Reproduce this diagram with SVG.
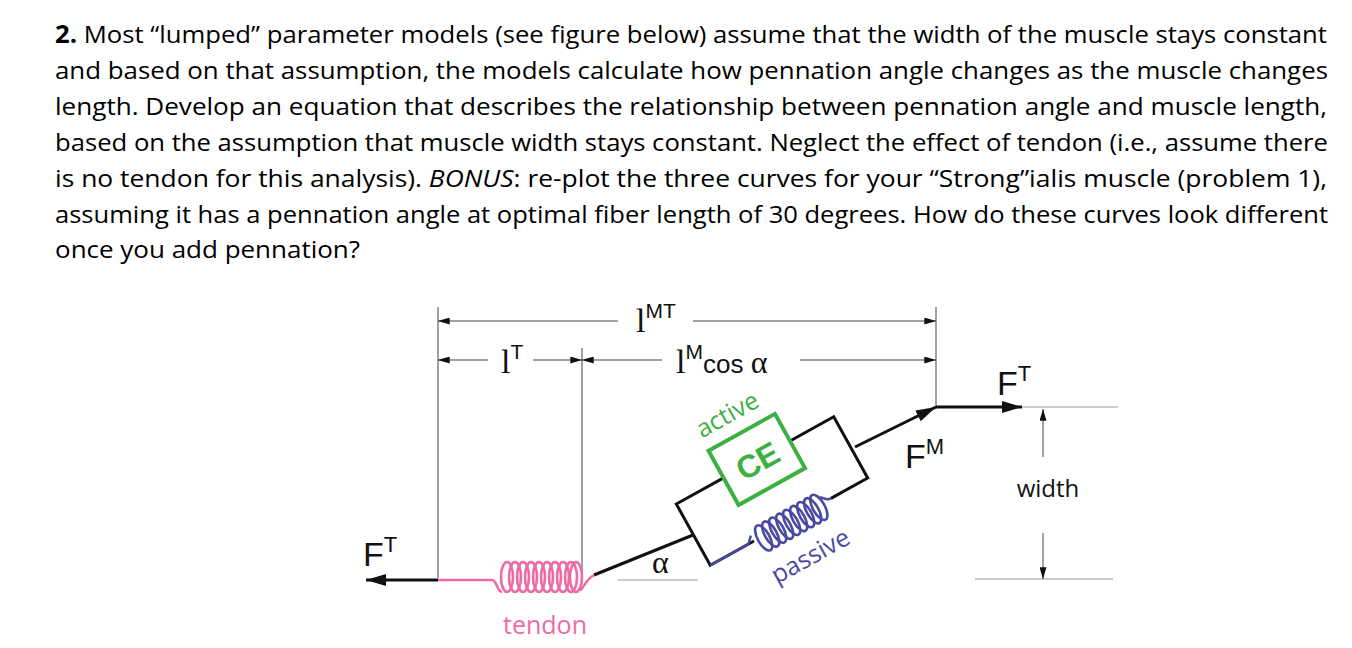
<svg xmlns="http://www.w3.org/2000/svg" width="1352" height="648" viewBox="0 0 1352 648">
<style>
.p{font-family:"Open Sans","Noto Sans",sans-serif;font-size:24.5px;fill:#000}
.l{font-family:"Liberation Sans",Arial,sans-serif;fill:#111}
.s{font-family:"Liberation Serif",serif;fill:#111}
.g{stroke:#999;stroke-width:1.2;fill:none}
.d{stroke:#444;stroke-width:1;fill:none}
</style>
<defs>
<marker id="a" viewBox="0 0 10 6" refX="10" refY="3" markerWidth="15" markerHeight="7" markerUnits="userSpaceOnUse" orient="auto-start-reverse"><path d="M0,0L10,3L0,6z" fill="#111"/></marker>
<marker id="b" viewBox="0 0 10 6" refX="10" refY="3" markerWidth="22" markerHeight="12" markerUnits="userSpaceOnUse" orient="auto-start-reverse"><path d="M0,0L10,3L0,6z" fill="#111"/></marker>
</defs>
<rect width="1352" height="648" fill="#fff"/>
<g id="question">
<text class="p" x="55" y="43" textLength="1272" lengthAdjust="spacingAndGlyphs"><tspan font-weight="bold">2.</tspan> Most “lumped” parameter models (see figure below) assume that the width of the muscle stays constant</text>
<text class="p" x="55" y="79" textLength="1273" lengthAdjust="spacingAndGlyphs">and based on that assumption, the models calculate how pennation angle changes as the muscle changes</text>
<text class="p" x="55" y="115" textLength="1272" lengthAdjust="spacingAndGlyphs">length.  Develop an equation that describes the relationship between pennation angle and muscle length,</text>
<text class="p" x="55" y="151" textLength="1273" lengthAdjust="spacingAndGlyphs">based on the assumption that muscle width stays constant.   Neglect the effect of tendon (i.e., assume there</text>
<text class="p" x="55" y="187" textLength="1272" lengthAdjust="spacingAndGlyphs">is no tendon for this analysis). <tspan font-style="italic">BONUS</tspan>: re-plot the three curves for your “Strong”ialis muscle (problem 1),</text>
<text class="p" x="55" y="223" textLength="1273" lengthAdjust="spacingAndGlyphs">assuming it has a pennation angle at optimal fiber length of 30 degrees.  How do these curves look different</text>
<text class="p" x="55" y="258" textLength="305" lengthAdjust="spacingAndGlyphs">once you add pennation?</text>
</g>
<g id="connectors">
<path class="d" d="M438,307V578M582,348V578M936,307V407"/>
<path class="d" d="M438,321H618" marker-start="url(#a)"/>
<path class="d" d="M693,321H936" marker-end="url(#a)"/>
<path class="d" d="M438,360H488" marker-start="url(#a)"/>
<path class="d" d="M533,360H582" marker-end="url(#a)"/>
<path class="d" d="M582,360H662" marker-start="url(#a)"/>
<path class="d" d="M800,360H936" marker-end="url(#a)"/>
<path class="g" d="M618,580H698M975,579H1113M1020,407H1118"/>
<path d="M1043,457V409" class="d" marker-end="url(#a)"/>
<path d="M1043,533V579" class="d" marker-end="url(#a)"/>
<path d="M438,580H366" stroke="#111" stroke-width="3" marker-end="url(#b)"/>
<path d="M936,407H1022" stroke="#111" stroke-width="3" marker-end="url(#b)"/>
<path d="M594,575L693,535" stroke="#111" stroke-width="3"/>
<path d="M855,447L936,407" stroke="#111" stroke-width="3" marker-end="url(#b)"/>
</g>
<g id="tendon">
<path d="M438,580H492c5,0 5,12 10,12 M580,590c3,0 5,-10 14,-15" stroke="#ee6aa7" stroke-width="2.5" fill="none"/>
<g stroke="#ee6aa7" stroke-width="2.6" fill="none">
<ellipse cx="507" cy="577" rx="6" ry="15"/><ellipse cx="515" cy="577" rx="6" ry="15"/><ellipse cx="523" cy="577" rx="6" ry="15"/><ellipse cx="531" cy="577" rx="6" ry="15"/><ellipse cx="539" cy="577" rx="6" ry="15"/><ellipse cx="547" cy="577" rx="6" ry="15"/><ellipse cx="555" cy="577" rx="6" ry="15"/><ellipse cx="563" cy="577" rx="6" ry="15"/><ellipse cx="571" cy="577" rx="6" ry="15"/><ellipse cx="576" cy="577" rx="6" ry="15"/>
</g>
<text x="545" y="634" text-anchor="middle" font-family="Open Sans,sans-serif" font-size="25" fill="#ee6aa7">tendon</text>
</g>
<g id="muscle" transform="translate(772,491) rotate(-29)">
<path d="M-20,-35H-90V35H-40M40,-35H90V35H48" stroke="#111" stroke-width="3" fill="none"/>
<path d="M-90,35H-48c4,0 4,-4 8,-6M38,29c4,0 4,6 10,6" stroke="#4a4aa0" stroke-width="2.5" fill="none"/>
<g stroke="#4a4aa0" stroke-width="2.6" fill="none">
<ellipse cx="-30" cy="37" rx="6" ry="14"/><ellipse cx="-22" cy="37" rx="6" ry="14"/><ellipse cx="-14" cy="37" rx="6" ry="14"/><ellipse cx="-6" cy="37" rx="6" ry="14"/><ellipse cx="2" cy="37" rx="6" ry="14"/><ellipse cx="10" cy="37" rx="6" ry="14"/><ellipse cx="18" cy="37" rx="6" ry="14"/><ellipse cx="26" cy="37" rx="6" ry="14"/><ellipse cx="33" cy="37" rx="6" ry="14"/>
</g>
<rect x="-36" y="-66" width="76" height="62" fill="#fff" stroke="#3cb043" stroke-width="4"/>
<text x="2" y="-22" text-anchor="middle" font-family="Liberation Sans,sans-serif" font-weight="bold" font-size="32" fill="#3cb043">CE</text>
<text x="-2" y="-80" text-anchor="middle" font-family="Open Sans,sans-serif" font-size="25" fill="#3cb043">active</text>
<text x="2" y="84" text-anchor="middle" font-family="Open Sans,sans-serif" font-size="25" fill="#4a4aa0">passive</text>
</g>
<g id="labels">
<text class="s" x="636" y="332" font-size="34">l<tspan class="l" font-size="21" dy="-14">MT</tspan></text>
<text class="s" x="501" y="373" font-size="34">l<tspan class="l" font-size="21" dy="-14">T</tspan></text>
<text class="s" x="676" y="373" font-size="34">l<tspan class="l" font-size="21" dy="-14">M</tspan><tspan class="l" font-size="26" dy="14">cos </tspan><tspan font-size="32">α</tspan></text>
<text class="s" x="652" y="573" font-size="32">α</text>
<text class="l" x="363" y="566" font-size="34">F<tspan font-size="22" dy="-14">T</tspan></text>
<text class="l" x="997" y="395" font-size="34">F<tspan font-size="22" dy="-14">T</tspan></text>
<text class="l" x="905" y="468" font-size="34">F<tspan font-size="22" dy="-14">M</tspan></text>
<text x="1048" y="497" text-anchor="middle" font-family="Open Sans,sans-serif" font-size="24" fill="#111">width</text>
</g>
</svg>
